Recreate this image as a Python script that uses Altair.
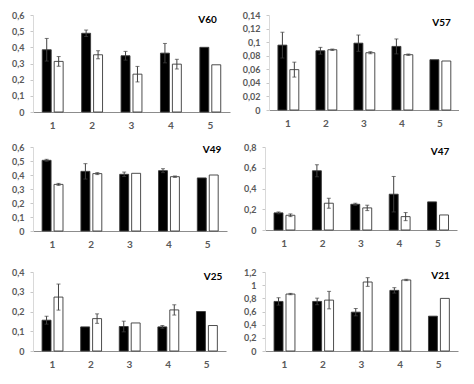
import altair as alt
import pandas as pd

groups = ["1", "2", "3", "4", "5"]

v60_black = [0.385, 0.487, 0.348, 0.364, 0.400]
v60_black_err = [0.070, 0.020, 0.027, 0.060, 0.0]
v60_white = [0.313, 0.354, 0.234, 0.296, 0.292]
v60_white_err = [0.030, 0.025, 0.048, 0.030, 0.0]

v57_black = [0.0956, 0.0873, 0.0985, 0.0937, 0.0741]
v57_black_err = [0.019, 0.005, 0.012, 0.011, 0.0]
v57_white = [0.0595, 0.0888, 0.0844, 0.0815, 0.0722]
v57_white_err = [0.011, 0.001, 0.0015, 0.001, 0.0]

v49_black = [0.505, 0.426, 0.405, 0.431, 0.379]
v49_black_err = [0.007, 0.055, 0.016, 0.014, 0.0]
v49_white = [0.333, 0.410, 0.412, 0.388, 0.400]
v49_white_err = [0.007, 0.007, 0.0, 0.005, 0.0]

v47_black = [0.165, 0.571, 0.248, 0.345, 0.271]
v47_black_err = [0.009, 0.058, 0.010, 0.171, 0.0]
v47_white = [0.142, 0.258, 0.213, 0.129, 0.145]
v47_white_err = [0.013, 0.048, 0.026, 0.039, 0.0]

v25_black = [0.156, 0.122, 0.124, 0.122, 0.200]
v25_black_err = [0.020, 0.0, 0.027, 0.007, 0.0]
v25_white = [0.273, 0.164, 0.142, 0.208, 0.129]
v25_white_err = [0.066, 0.024, 0.0, 0.026, 0.0]

v21_black = [0.753, 0.753, 0.590, 0.921, 0.529]
v21_black_err = [0.056, 0.050, 0.056, 0.041, 0.0]
v21_white = [0.865, 0.773, 1.048, 1.079, 0.799]
v21_white_err = [0.010, 0.133, 0.066, 0.010, 0.0]

FONT = "Lato"
LABEL_COLOR = "#595959"


def panel(name, black, berr, white, werr, ymax, step, w, h, tx, ty, yext, xext):
    rows = []
    for i, g in enumerate(groups):
        rows.append(dict(g=g, s="a", v=black[i], e=berr[i]))
        rows.append(dict(g=g, s="b", v=white[i], e=werr[i]))
    df = pd.DataFrame(rows)
    df["lo"] = df["v"] - df["e"]
    df["hi"] = df["v"] + df["e"]
    n = int(round(ymax / step))
    ticks = [round(k * step, 4) for k in range(n + 1)]

    xaxis = alt.Axis(title=None, labelAngle=0, ticks=False, domainColor="#8c8c8c",
                     labelPadding=8, labelFont=FONT, labelFontSize=10, labelFontWeight="bold",
                     labelColor=LABEL_COLOR, minExtent=xext, maxExtent=xext)
    yaxis = alt.Axis(title=None, values=ticks, grid=False, domainColor="#d9d9d9",
                     tickColor="#c8c8c8", tickSize=3, labelPadding=6, labelFont=FONT,
                     labelFontSize=9, labelFontWeight="bold", labelColor=LABEL_COLOR,
                     labelExpr="replace(format(datum.value, '~g'), '.', ',')",
                     minExtent=yext, maxExtent=yext)
    yscale = alt.Scale(domain=[0, ymax], nice=False, zero=True)

    def X():
        return alt.X("g:N", sort=groups, scale=alt.Scale(paddingInner=0.47, paddingOuter=0.235), axis=xaxis)

    def XO():
        return alt.XOffset("s:N", sort=["a", "b"], scale=alt.Scale(paddingInner=0.25))

    def Y(field):
        return alt.Y(field, scale=yscale, axis=yaxis)

    base = alt.Chart(df)
    bars = base.mark_bar(stroke="#3a3a3a", strokeWidth=0.9).encode(
        x=X(), xOffset=XO(), y=Y("v:Q"),
        color=alt.Color("s:N", scale=alt.Scale(domain=["a", "b"], range=["#000000", "#ffffff"]), legend=None),
    )
    errbase = base.transform_filter("datum.e > 0")
    err = errbase.mark_rule(color="#404040", strokeWidth=1).encode(
        x=X(), xOffset=XO(), y=Y("lo:Q"), y2="hi:Q")
    cap_hi = errbase.mark_tick(orient="horizontal", size=4, thickness=1, color="#404040").encode(
        x=X(), xOffset=XO(), y=Y("hi:Q"))
    cap_lo = errbase.mark_tick(orient="horizontal", size=4, thickness=1, color="#404040").encode(
        x=X(), xOffset=XO(), y=Y("lo:Q"))
    title = alt.Chart(pd.DataFrame({"t": [name]})).mark_text(
        font=FONT, fontSize=10, fontWeight="bold", color="#000000", align="center", baseline="middle"
    ).encode(text="t:N", x=alt.value(tx), y=alt.value(ty))
    return alt.layer(bars, err, cap_hi, cap_lo, title).properties(width=w, height=h)


p1 = panel("V60", v60_black, v60_black_err, v60_white, v60_white_err, 0.6, 0.1, 197, 97, 174.5, 5, 25, 11)
p2 = panel("V57", v57_black, v57_black_err, v57_white, v57_white_err, 0.14, 0.02, 190, 95, 172.5, 7.5, 30, 11)
p3 = panel("V49", v49_black, v49_black_err, v49_white, v49_white_err, 0.6, 0.1, 194, 84, 179, 3, 25, 23.3)
p4 = panel("V47", v47_black, v47_black_err, v47_white, v47_white_err, 0.8, 0.2, 192, 83, 175, 5, 30, 23.3)
p5 = panel("V25", v25_black, v25_black_err, v25_white, v25_white_err, 0.4, 0.1, 193, 79, 180, 5, 25, 11)
p6 = panel("V21", v21_black, v21_black_err, v21_white, v21_white_err, 1.2, 0.2, 193, 79, 175.5, 4, 30, 11)

row1 = alt.hconcat(p1, p2, spacing=9)
row2 = alt.hconcat(p3, p4, spacing=8)
row3 = alt.hconcat(p5, p6, spacing=9)

chart = alt.vconcat(row1, row2, row3, spacing=13).properties(
    padding={"left": 0, "top": 3, "right": 0, "bottom": 0}, background="white"
).configure_view(stroke=None)

chart.save("out.html", embed_options={"renderer": "svg", "actions": False})
